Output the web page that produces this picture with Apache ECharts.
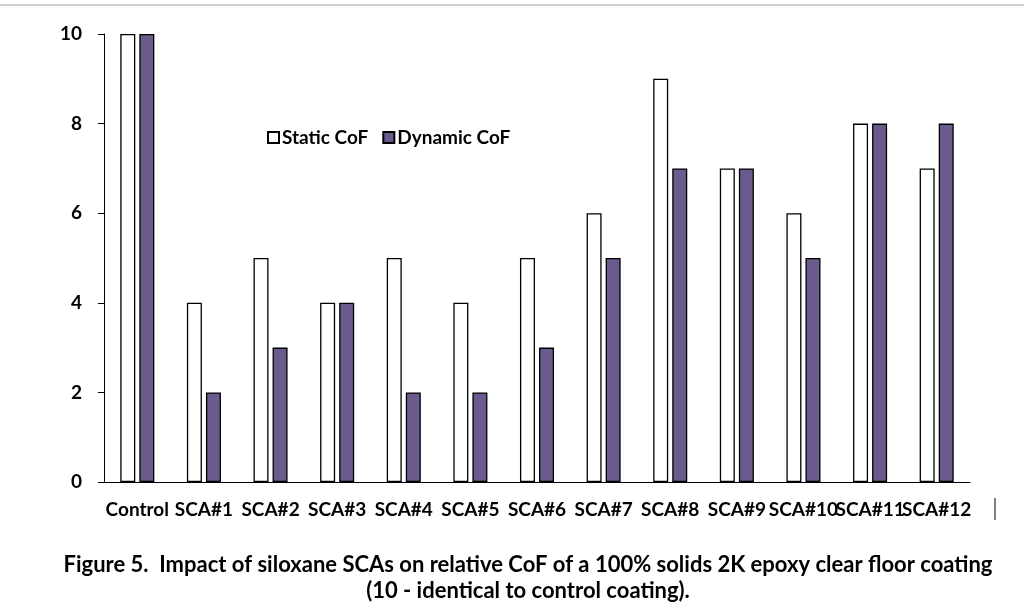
<!DOCTYPE html>
<html lang="en">
<head>
    <meta charset="UTF-8">
    <title>CoF chart</title>
    <script src="https://cdn.jsdelivr.net/npm/echarts@6/dist/echarts.min.js"></script>
    <style>
        html, body { margin: 0; padding: 0; background: #fff; }
    </style>
</head>
<body>
    <div id="chart" style="width: 1024px;height: 614px;"></div>
</body>
<script type="text/javascript">
    var categories = ['Control', 'SCA#1', 'SCA#2', 'SCA#3', 'SCA#4', 'SCA#5', 'SCA#6',
        'SCA#7', 'SCA#8', 'SCA#9', 'SCA#10', 'SCA#11', 'SCA#12'];
    var staticCoF = [10, 4, 5, 4, 5, 4, 5, 6, 9, 7, 6, 8, 7];
    var dynamicCoF = [10, 2, 3, 4, 2, 2, 3, 5, 7, 7, 5, 8, 8];
    var yTicks = [0, 2, 4, 6, 8, 10];

    var font = 'Lato, "Open Sans", sans-serif';
    var chart = echarts.init(document.getElementById('chart'));

    var option = {
        animation: false,
        title: {
            text: 'Figure 5.  Impact of siloxane SCAs on relative CoF of a 100% solids 2K epoxy clear floor coating\n(10 - identical to control coating).',
            left: 523,
            textAlign: 'center',
            top: 547,
            textStyle: {
                fontFamily: font, fontWeight: 'bold', fontSize: 22, lineHeight: 26, color: '#000'
            }
        },
        legend: {
            left: 262,
            top: 123,
            itemWidth: 11,
            itemHeight: 11,
            itemGap: 14,
            icon: 'rect',
            textStyle: { fontFamily: font, fontWeight: 'bold', fontSize: 19, color: '#000', padding: [0, 0, 0, -2] },
            data: ['Static CoF', 'Dynamic CoF']
        },
        grid: { left: 104, right: 54, top: 34, bottom: 132 },
        xAxis: {
            type: 'category',
            data: categories,
            axisLine: { lineStyle: { color: '#000', width: 1 } },
            axisTick: { inside: true, length: 6, lineStyle: { color: '#000' } },
            axisLabel: { fontFamily: font, fontWeight: 'bold', fontSize: 19, color: '#000', margin: 18, interval: 0 }
        },
        yAxis: {
            type: 'value',
            min: yTicks[0],
            max: yTicks[yTicks.length - 1],
            interval: 2,
            splitLine: { show: false },
            axisLine: { show: true, lineStyle: { color: '#000', width: 1 } },
            axisTick: { show: true, length: 6, lineStyle: { color: '#000' } },
            axisLabel: { fontFamily: font, fontWeight: 'bold', fontSize: 19, color: '#000', margin: 22 }
        },
        series: [
            {
                name: 'Static CoF',
                type: 'bar',
                data: staticCoF,
                barWidth: 15,
                barGap: '27%',
                itemStyle: { color: '#fff', borderColor: '#000', borderWidth: 1.3 }
            },
            {
                name: 'Dynamic CoF',
                type: 'bar',
                data: dynamicCoF,
                barWidth: 15,
                itemStyle: { color: '#6b5a8e', borderColor: '#000', borderWidth: 1.3 }
            }
        ],
        graphic: [
            { type: 'line', shape: { x1: 0, y1: 5, x2: 1024, y2: 5 }, style: { stroke: '#d0d0d0', lineWidth: 2 } },
            { type: 'line', shape: { x1: 995, y1: 498, x2: 995, y2: 520 }, style: { stroke: '#000', lineWidth: 1 } }
        ]
    };

    chart.setOption(option);
</script>
</html>
